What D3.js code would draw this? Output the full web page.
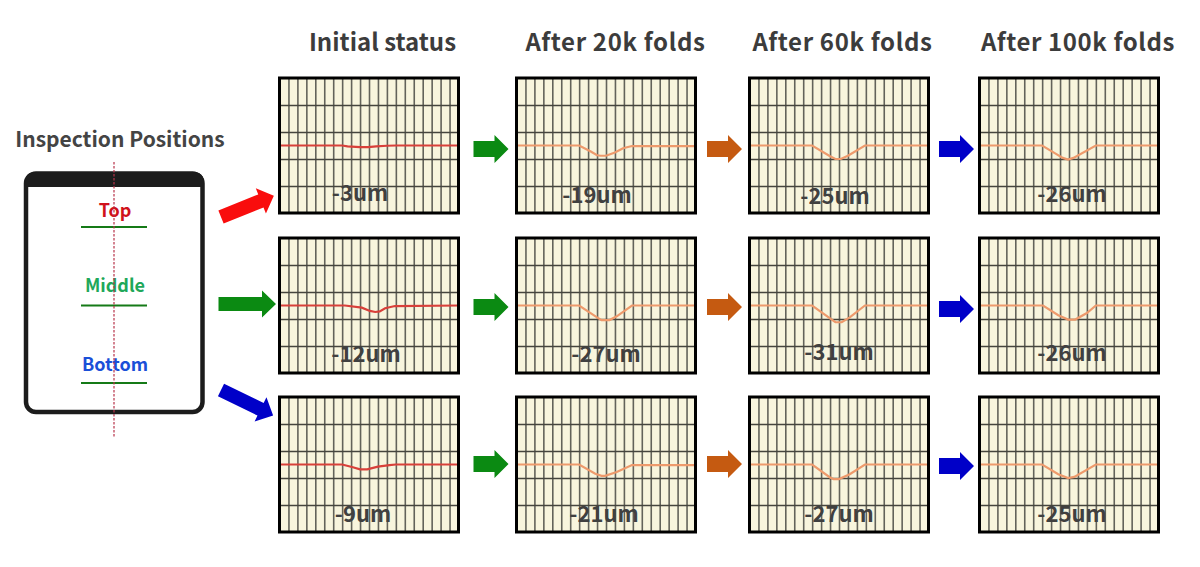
<!DOCTYPE html>
<html>
<head>
    <meta charset="utf-8">
    <title>Inspection Positions</title>
    <script src="https://cdnjs.cloudflare.com/ajax/libs/d3/7.8.5/d3.min.js"></script>
    <style>
        body { margin: 0; background: #fff; }
        svg { display: block; }
        text { font-family: "Noto Sans CJK KR", "Noto Sans", sans-serif; font-weight: 700; }
    </style>
</head>
<body>
    <div id="chart"></div>
    <script>
        // stages and positions
        const stages = ["Initial status", "After 20k folds", "After 60k folds", "After 100k folds"];
        const positions = ["Top", "Middle", "Bottom"];

        // depth readings per position, one per stage (um)
        const topDepths = [-3, -19, -25, -26];
        const middleDepths = [-12, -27, -31, -26];
        const bottomDepths = [-9, -21, -27, -25];

        // traces: [grid division, um]
        const topInitial = [[0, 0], [7, 0], [7.6, -1.5], [9, -3], [9.9, -3], [10.8, -1.5], [12, -0.5], [13, 0], [20, 0]];
        const top20k = [[0, 0], [7, 0], [8.3, -11], [9, -18], [9.4, -19], [10, -19], [11, -13], [11.9, -5], [12.9, -1], [20, -1]];
        const top60k = [[0, 0], [7, 0], [9, -20], [9.6, -25], [10.2, -25], [11, -19], [12.9, 0], [20, 0]];
        const top100k = [[0, 0], [7, 0], [8.5, -15], [9.3, -23], [9.9, -26], [10.5, -23], [13, 0], [20, 0]];

        const middleInitial = [[0, 0], [7.3, 0], [9.2, -4], [10.1, -10], [10.7, -12], [11.2, -11], [11.8, -5], [12.9, -1], [20, 0]];
        const middle20k = [[0, 0], [7, 0], [9, -22], [9.5, -27], [10.4, -27], [11.2, -20], [12.9, 0], [20, 0]];
        const middle60k = [[0, 0], [7, 0], [9, -24], [9.6, -31], [10.3, -31], [11.2, -22], [12.9, 0], [20, 0]];
        const middle100k = [[0, 0], [7.1, 0], [8.8, -18], [9.9, -26], [10.7, -26], [12, -14], [13, 0], [20, 0]];

        const bottomInitial = [[0, 0], [7, 0], [8.2, -5], [9, -9], [9.8, -9], [11, -4], [12.3, -1], [13, 0], [20, 0]];
        const bottom20k = [[0, 0], [7, 0], [8.8, -17], [9.5, -21], [9.9, -21], [11.2, -14], [12.9, -1], [20, -1]];
        const bottom60k = [[0, 0], [7, 0], [9, -24], [9.4, -27], [10, -27], [11.2, -18], [12.9, 0], [20, 0]];
        const bottom100k = [[0, 0], [7, 0], [8.8, -18], [9.9, -25], [10.6, -23], [13, 0], [20, 0]];

        const traces = [
            [topInitial, top20k, top60k, top100k],
            [middleInitial, middle20k, middle60k, middle100k],
            [bottomInitial, bottom20k, bottom60k, bottom100k]
        ];
        const depths = [topDepths, middleDepths, bottomDepths];

        // layout
        const width = 1200, height = 567;
        const panelW = 179, panelH = 135;
        const colX = [279.5, 516.5, 749.5, 979.5];
        const rowY = [78, 238, 397];
        const titleX = [382.5, 615.5, 842.5, 1078];
        const titleSpacing = [0, 0.65, 0.65, 0.6];
        const labelX = [[360, 597, 835, 1072], [366, 606, 839, 1072], [363, 604, 839, 1072]];
        const labelY = [[193, 195, 196, 194], [354, 354, 352, 353], [514, 514, 514, 514]];
        const traceColors = ["#d8403a", "#ee9a6c", "#ee9a6c", "#ee9a6c"];
        const arrowColors = ["#0b8a12", "#c55a11", "#0000c8"];
        const arrowX = [473.5, 707, 939];
        const arrowY = [[149, 149, 149], [307, 307, 309], [464, 464, 466]];

        const svg = d3.select("#chart").append("svg")
            .attr("width", width)
            .attr("height", height);

        const x = d3.scaleLinear().domain([0, 20]).range([0, panelW]);
        const y = d3.scaleLinear().domain([125, -125]).range([0, panelH]);
        const line = d3.line().x(d => x(d[0])).y(d => y(d[1]));

        // column titles
        svg.selectAll(".title")
            .data(stages)
            .join("text")
            .attr("class", "title")
            .attr("x", (d, i) => titleX[i])
            .attr("y", 51)
            .attr("text-anchor", "middle")
            .attr("font-size", 24)
            .attr("letter-spacing", (d, i) => titleSpacing[i])
            .attr("fill", "#3c3c3c")
            .text(d => d);

        // panels
        positions.forEach((pos, r) => {
            stages.forEach((stage, c) => {
                const g = svg.append("g").attr("transform", `translate(${colX[c]},${rowY[r]})`);

                g.append("rect")
                    .attr("width", panelW)
                    .attr("height", panelH)
                    .attr("fill", "#f8f5dd");

                const vGrid = g.append("g")
                    .attr("transform", `translate(0,${panelH})`)
                    .call(d3.axisBottom(x).tickValues(d3.range(1, 20)).tickSize(-panelH).tickFormat(""));
                const hGrid = g.append("g")
                    .call(d3.axisLeft(y).tickValues([-75, -25, 25, 75]).tickSize(-panelW).tickFormat(""));
                vGrid.select(".domain").remove();
                hGrid.select(".domain").remove();
                vGrid.selectAll("line").attr("stroke", "#63635a").attr("stroke-width", 1.6);
                hGrid.selectAll("line").attr("stroke", "#45453e").attr("stroke-width", 1.3);

                g.append("path")
                    .attr("d", line(traces[r][c]))
                    .attr("fill", "none")
                    .attr("stroke", traceColors[c])
                    .attr("stroke-width", 2.2);

                g.append("rect")
                    .attr("width", panelW)
                    .attr("height", panelH)
                    .attr("fill", "none")
                    .attr("stroke", "#000")
                    .attr("stroke-width", 3);

                svg.append("text")
                    .attr("x", labelX[r][c])
                    .attr("y", labelY[r][c] + 8)
                    .attr("text-anchor", "middle")
                    .attr("font-size", 22)
                    .attr("fill", "#404040")
                    .text(`${depths[r][c]}um`);
            });
        });

        // block arrow pointing along +x, tip at (len, 0)
        const arrowPath = (len, bodyH, headH, headL) => d3.line()([
            [0, -bodyH], [len - headL, -bodyH], [len - headL, -headH], [len, 0],
            [len - headL, headH], [len - headL, bodyH], [0, bodyH]
        ]) + "Z";

        // arrows between stages
        arrowX.forEach((ax, c) => {
            arrowY.forEach(row => {
                svg.append("path")
                    .attr("d", arrowPath(35, 8, 14, 14))
                    .attr("transform", `translate(${ax},${row[c]})`)
                    .attr("fill", arrowColors[c]);
            });
        });

        // arrows from the device to the first column
        const leadArrows = [
            { x: 221, y: 217, angle: -22, len: 57, color: "#f90d0d" },
            { x: 218.5, y: 304, angle: 0, len: 57.5, color: "#0b8a12" },
            { x: 221, y: 390, angle: 26, len: 58, color: "#0000c8" }
        ];
        leadArrows.forEach(a => {
            svg.append("path")
                .attr("d", arrowPath(a.len, 7, 13.5, 14))
                .attr("transform", `translate(${a.x},${a.y}) rotate(${a.angle})`)
                .attr("fill", a.color);
        });

        // device sketch
        svg.append("text")
            .attr("x", 120)
            .attr("y", 147)
            .attr("text-anchor", "middle")
            .attr("font-size", 21)
            .attr("fill", "#444")
            .text("Inspection Positions");

        svg.append("rect")
            .attr("x", 26).attr("y", 173.5)
            .attr("width", 176.5).attr("height", 238.5)
            .attr("rx", 10)
            .attr("fill", "#fff")
            .attr("stroke", "#1c1c1c")
            .attr("stroke-width", 4.5);
        svg.append("path")
            .attr("d", "M25,187 V183 Q25,172 36,172 H193 Q204,172 204,183 V187 Z")
            .attr("fill", "#1c1c1c");

        const posColors = ["#d0121b", "#1fa85a", "#1a4fd8"];
        const posTextY = [217, 292, 371];
        const posLineY = [227, 305.5, 383];
        positions.forEach((pos, i) => {
            svg.append("text")
                .attr("x", 115)
                .attr("y", posTextY[i])
                .attr("text-anchor", "middle")
                .attr("font-size", 18)
                .attr("fill", posColors[i])
                .text(pos);
            svg.append("line")
                .attr("x1", 81).attr("x2", 147)
                .attr("y1", posLineY[i]).attr("y2", posLineY[i])
                .attr("stroke", "#157a17")
                .attr("stroke-width", 2.2);
        });

        svg.append("line")
            .attr("x1", 114).attr("x2", 114)
            .attr("y1", 162).attr("y2", 438)
            .attr("stroke", "#b8324a")
            .attr("stroke-width", 1.2)
            .attr("stroke-dasharray", "2.5 1.5");
    </script>
</body>
</html>
